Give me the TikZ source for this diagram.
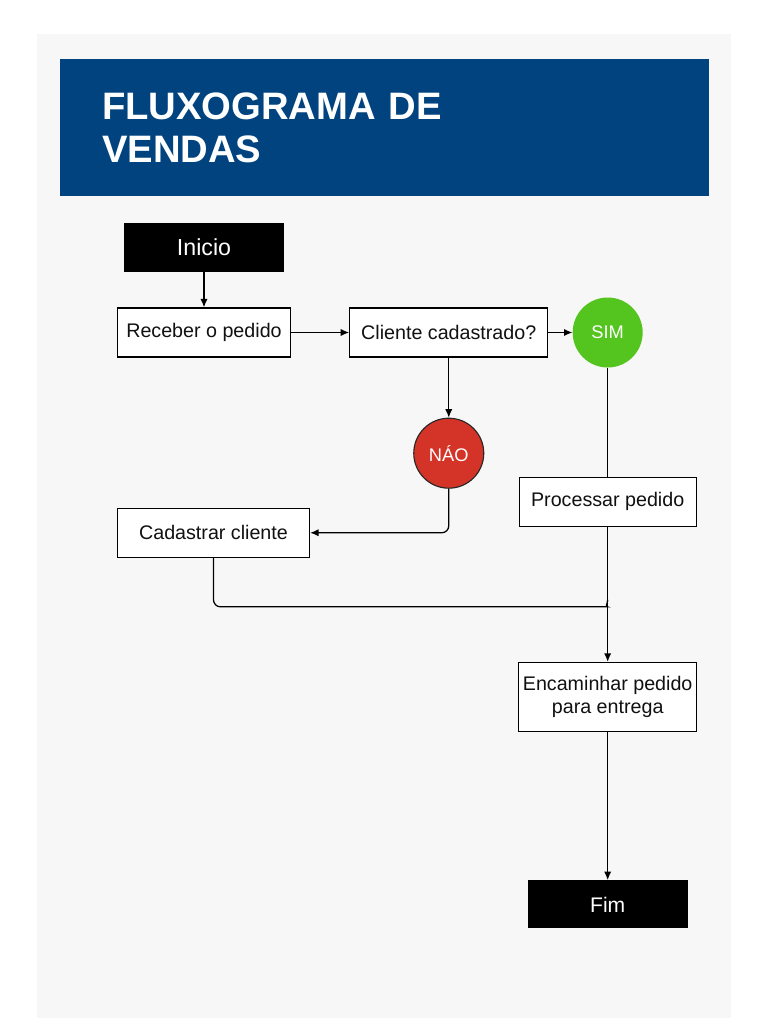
\documentclass[tikz,border=0pt]{standalone}
\usepackage{fontspec}
\setmainfont{Liberation Sans}
\usetikzlibrary{arrows.meta,positioning}
\definecolor{vendasblue}{RGB}{0,67,127}
\definecolor{simgreen}{RGB}{84,196,30}
\definecolor{naored}{RGB}{212,52,40}
\definecolor{panelgray}{RGB}{247,247,247}
\definecolor{textdark}{RGB}{17,17,17}
\tikzset{
  titlebar/.style={fill=vendasblue, text=white, minimum width=16.225cm, minimum height=3.425cm,
               text width=14.125cm, inner xsep=1.05cm, align=left,
               font=\fontsize{27.2}{30.6}\selectfont\bfseries},
  tbox/.style={draw=black, fill=white, line width=0.9pt, minimum height=1.225cm, inner sep=2pt,
               align=center, text=textdark, font=\fontsize{14}{16.4}\selectfont},
  endbox/.style={fill=black, text=white, minimum width=4cm, minimum height=1.225cm,
               font=\fontsize{16.5}{19}\selectfont},
  decision/.style={circle, minimum size=1.75cm, inner sep=0pt, text=white,
               font=\fontsize{13}{15}\selectfont},
  flow/.style={-{Latex[length=2.1mm,width=1.8mm]}, line width=0.9pt},
  link/.style={line width=0.9pt},
}
\begin{document}
\begin{tikzpicture}
    \useasboundingbox (0,0) rectangle (19.2,25.6);
    \fill[white] (0,0) rectangle (19.2,25.6);
    \fill[panelgray] (0.925,0.15) rectangle (18.275,24.75);
    \node[titlebar] (titulo) at (9.6125,22.4125) {FLUXOGRAMA DE\\VENDAS};

    \node[endbox] (inicio) at (5.1,19.41) {Inicio};
    \node[tbox, minimum width=4.325cm, below=0.875cm of inicio] (receber) {Receber o pedido};
    \node[tbox, minimum width=4.95cm, right=1.45cm of receber] (cliente) {Cliente cadastrado?};
    \node[decision, fill=simgreen, right=0.6cm of cliente] (sim) {SIM};
    \node[decision, fill=naored, draw=black!85, line width=0.8pt, below=1.5cm of cliente] (nao) {NÁO};
    \node[tbox, minimum width=4.425cm, below=2.72cm of sim] (processar) {Processar pedido};
    \node[tbox, minimum width=4.8cm, below=3.75cm of receber.south west, anchor=north west] (cadastrar) {Cadastrar cliente};
    \node[tbox, minimum width=4.45cm, minimum height=1.725cm, below=3.375cm of processar] (encaminhar) {Encaminhar pedido\\para entrega};
    \node[endbox, minimum height=1.2cm, font=\fontsize{15}{18}\selectfont, below=3.7cm of encaminhar] (fim) {Fim};
    \coordinate[below=2cm of processar] (juncao);

    \draw[flow] (inicio) -- (receber);
    \draw[flow] (receber) -- (cliente);
    \draw[flow] (cliente) -- (sim);
    \draw[flow] (cliente) -- (nao);
    \draw[flow, rounded corners=5pt] (nao) |- (cadastrar);
    \draw[link] (sim) -- (processar);
    \draw[link, rounded corners=5pt] (cadastrar) |- ([xshift=-5pt]juncao) arc[start angle=-90, end angle=0, radius=5pt];
    \draw[flow] (processar) -- (encaminhar);
    \draw[flow] (encaminhar) -- (fim);
\end{tikzpicture}
\end{document}
